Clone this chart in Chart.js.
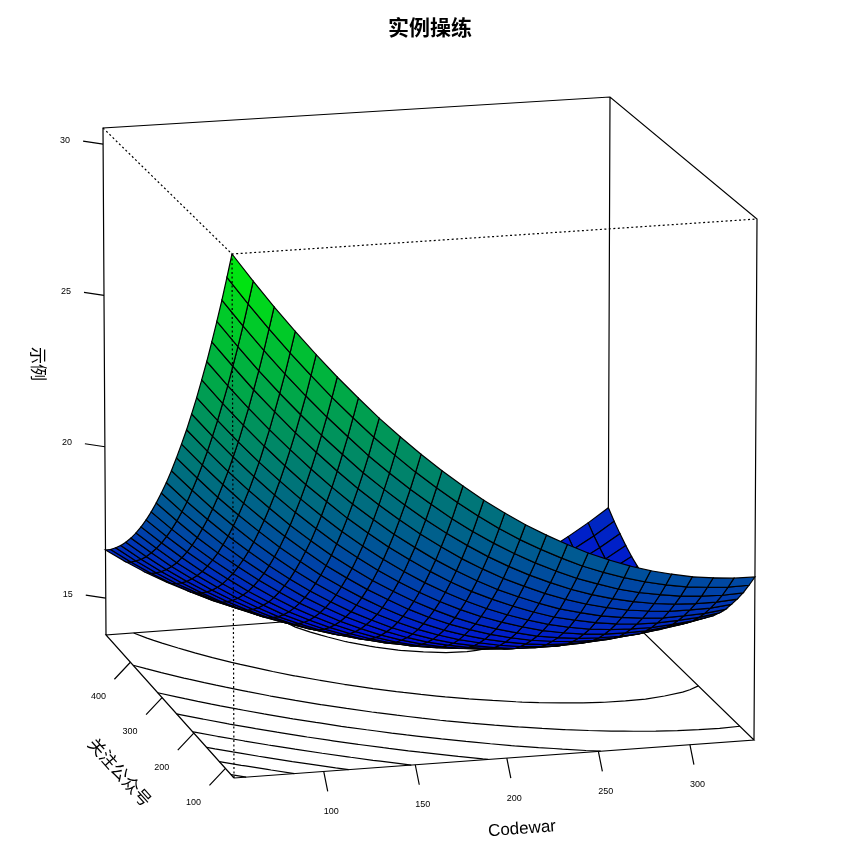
<!DOCTYPE html>
<html>
<head>
<meta charset="utf-8">
<script src="https://cdn.jsdelivr.net/npm/chart.js@4/dist/chart.umd.js"></script>
<style>
html, body { margin: 0; padding: 0; background: #fff; }
canvas { display: block; }
</style>
</head>
<body>
<canvas id="myChart" width="864" height="852"></canvas>
<script>
var titleText = "实例操练";
var xLabel = "Codewar";
var yLabel = "关注公众号";
var zLabel = "示例";

var codewarTicks = [100, 150, 200, 250, 300];
var followerTicks = [100, 200, 300, 400];
var zTicks = [15, 20, 25, 30];
var contourLevels = [14, 16, 18, 20, 22, 24, 26, 28, 30];

var codewarLim = [51, 335];
var followerLim = [73, 477];
var zLim = [13.78, 30.53];

var codewar = [51, 62.4, 73.7, 85.1, 96.4, 107.8, 119.2, 130.5, 141.9, 153.2, 164.6, 176, 187.3, 198.7, 210, 221.4, 232.8, 244.1, 255.5, 266.8, 278.2, 289.6, 300.9, 312.3, 323.6, 335];
var follower = [73, 89.2, 105.3, 121.5, 137.6, 153.8, 170, 186.1, 202.3, 218.4, 234.6, 250.8, 266.9, 283.1, 299.2, 315.4, 331.6, 347.7, 363.9, 380, 396.2, 412.4, 428.5, 444.7, 460.8, 477];

// one row per follower value, one column per codewar value
var zValues = [
  [30.53,29.62,28.75,27.92,27.13,26.37,25.65,24.96,24.32,23.71,23.14,22.60,22.10,21.64,21.22,20.84,20.49,20.17,19.90,19.66,19.46,19.30,19.17,19.09,19.03,19.02],
  [29.62,28.73,27.88,27.07,26.30,25.55,24.85,24.18,23.56,22.97,22.42,21.90,21.42,20.97,20.57,20.21,19.88,19.58,19.33,19.11,18.93,18.78,18.67,18.61,18.57,18.58],
  [28.73,27.86,27.03,26.23,25.48,24.76,24.08,23.42,22.82,22.25,21.72,21.21,20.75,20.33,19.95,19.60,19.29,19.01,18.78,18.57,18.41,18.29,18.20,18.15,18.13,18.16],
  [27.88,27.03,26.21,25.44,24.71,24.00,23.34,22.70,22.12,21.57,21.05,20.57,20.13,19.72,19.36,19.03,18.74,18.48,18.26,18.08,17.94,17.83,17.76,17.73,17.73,17.78],
  [27.06,26.23,25.43,24.68,23.96,23.28,22.63,22.02,21.45,20.92,20.42,19.96,19.53,19.15,18.80,18.50,18.22,17.98,17.78,17.62,17.49,17.41,17.35,17.35,17.36,17.43],
  [26.26,25.44,24.67,23.93,23.24,22.57,21.94,21.35,20.80,20.28,19.81,19.36,18.96,18.59,18.26,17.98,17.72,17.49,17.32,17.17,17.07,17.00,16.96,16.98,17.01,17.09],
  [25.50,24.70,23.95,23.23,22.55,21.90,21.30,20.72,20.19,19.69,19.24,18.81,18.42,18.07,17.77,17.50,17.26,17.05,16.90,16.77,16.68,16.63,16.62,16.65,16.70,16.80],
  [24.76,23.98,23.24,22.54,21.89,21.26,20.67,20.11,19.60,19.12,18.68,18.27,17.91,17.58,17.29,17.04,16.82,16.63,16.49,16.38,16.32,16.29,16.29,16.34,16.41,16.53],
  [24.06,23.30,22.58,21.90,21.26,20.65,20.08,19.54,19.05,18.59,18.17,17.78,17.43,17.12,16.85,16.62,16.42,16.25,16.13,16.04,15.99,15.98,16.00,16.07,16.16,16.30],
  [23.38,22.64,21.94,21.28,20.66,20.06,19.51,18.99,18.52,18.08,17.68,17.31,16.98,16.68,16.43,16.22,16.04,15.89,15.79,15.72,15.69,15.69,15.73,15.82,15.93,16.09],
  [22.74,22.02,21.34,20.69,20.09,19.52,18.99,18.48,18.03,17.61,17.23,16.87,16.56,16.29,16.06,15.86,15.70,15.57,15.49,15.43,15.42,15.45,15.51,15.61,15.74,15.92],
  [22.12,21.42,20.75,20.13,19.55,18.99,18.48,17.99,17.56,17.16,16.79,16.46,16.17,15.91,15.70,15.52,15.38,15.27,15.20,15.17,15.18,15.22,15.30,15.42,15.57,15.77],
  [21.53,20.85,20.20,19.60,19.03,18.50,18.00,17.54,17.12,16.74,16.39,16.08,15.80,15.57,15.37,15.22,15.09,15.00,14.95,14.94,14.96,15.03,15.12,15.27,15.43,15.65],
  [20.97,20.30,19.68,19.09,18.55,18.03,17.55,17.11,16.71,16.34,16.02,15.72,15.47,15.25,15.07,14.94,14.83,14.75,14.73,14.73,14.78,14.86,14.97,15.14,15.32,15.55],
  [20.45,19.80,19.20,18.63,18.10,17.60,17.15,16.72,16.34,15.99,15.69,15.41,15.17,14.97,14.82,14.70,14.61,14.55,14.55,14.57,14.63,14.73,14.87,15.05,15.25,15.50],
  [19.95,19.32,18.73,18.18,17.68,17.20,16.76,16.35,15.99,15.66,15.37,15.11,14.90,14.72,14.58,14.48,14.41,14.37,14.38,14.42,14.51,14.63,14.78,14.98,15.20,15.47],
  [19.48,18.87,18.30,17.77,17.28,16.82,16.40,16.01,15.67,15.36,15.09,14.85,14.65,14.49,14.37,14.29,14.24,14.22,14.25,14.31,14.41,14.55,14.72,14.94,15.18,15.47],
  [19.04,18.45,17.90,17.39,16.92,16.47,16.07,15.70,15.38,15.09,14.84,14.62,14.44,14.29,14.19,14.13,14.10,14.10,14.15,14.23,14.35,14.50,14.69,14.93,15.19,15.50],
  [18.63,18.06,17.53,17.03,16.58,16.16,15.78,15.42,15.12,14.85,14.62,14.41,14.25,14.13,14.05,14.00,13.99,14.01,14.08,14.17,14.31,14.49,14.70,14.95,15.23,15.56],
  [18.25,17.70,17.18,16.71,16.28,15.87,15.51,15.17,14.89,14.64,14.42,14.24,14.10,13.99,13.93,13.90,13.91,13.95,14.03,14.15,14.31,14.50,14.73,15.00,15.30,15.65],
  [17.90,17.37,16.87,16.42,16.00,15.62,15.27,14.96,14.69,14.46,14.26,14.10,13.97,13.89,13.84,13.84,13.86,13.92,14.02,14.16,14.33,14.55,14.79,15.09,15.40,15.77],
  [17.58,17.06,16.59,16.15,15.76,15.39,15.06,14.77,14.52,14.30,14.13,13.98,13.88,13.81,13.78,13.80,13.84,13.91,14.04,14.19,14.39,14.62,14.88,15.20,15.53,15.91],
  [17.29,16.79,16.34,15.92,15.54,15.19,14.89,14.61,14.38,14.18,14.03,13.90,13.81,13.76,13.76,13.79,13.85,13.94,14.09,14.26,14.47,14.72,15.01,15.34,15.69,16.09],
  [17.03,16.55,16.11,15.71,15.36,15.03,14.74,14.48,14.27,14.09,13.95,13.84,13.78,13.75,13.76,13.81,13.89,14.00,14.16,14.35,14.59,14.86,15.16,15.51,15.88,16.30],
  [16.79,16.33,15.91,15.53,15.19,14.88,14.61,14.37,14.18,14.02,13.90,13.81,13.76,13.75,13.78,13.85,13.95,14.08,14.26,14.47,14.72,15.01,15.33,15.70,16.09,16.53],
  [16.59,16.15,15.75,15.39,15.07,14.77,14.52,14.30,14.13,13.99,13.89,13.82,13.79,13.79,13.84,13.93,14.05,14.20,14.40,14.63,14.90,15.20,15.54,15.93,16.34,16.80]
];

// where the eight corners of the box land on the page (the view of the plot)
var view = {
  floor: { near: [234, 778], right: [754, 740], left: [106, 635], back: [608, 598] },
  top: { near: [232, 254], right: [757, 219], left: [103, 128], back: [610, 97] }
};

function mix(a, b, t) { return a + (b - a) * t; }

function project(cw, fo, z) {
  var u = (cw - codewarLim[0]) / (codewarLim[1] - codewarLim[0]);
  var v = (fo - followerLim[0]) / (followerLim[1] - followerLim[0]);
  var w = (z - zLim[0]) / (zLim[1] - zLim[0]);
  var res = [0, 1].map(function (k) {
    var f = view.floor, t = view.top;
    var lo = mix(mix(f.near[k], f.right[k], u), mix(f.left[k], f.back[k], u), v);
    var hi = mix(mix(t.near[k], t.right[k], u), mix(t.left[k], t.back[k], u), v);
    return mix(lo, hi, w);
  });
  return { x: res[0], y: res[1] };
}

function facetColor(z) {
  var t = (z - zLim[0]) / (zLim[1] - zLim[0]);
  return "rgb(0," + Math.round(240 * t) + "," + Math.round(225 * (1 - t) + 5) + ")";
}

// draws each dataset as one filled cell, the points come from the scales
class Facet extends Chart.ScatterController {
  draw() {
    var pts = this._cachedMeta.data;
    var ctx = this.chart.ctx;
    ctx.save();
    ctx.beginPath();
    pts.forEach(function (p, i) {
      if (i == 0) ctx.moveTo(p.x, p.y); else ctx.lineTo(p.x, p.y);
    });
    ctx.closePath();
    ctx.fillStyle = this.getDataset().backgroundColor;
    ctx.fill();
    ctx.strokeStyle = "#000";
    ctx.lineWidth = 1.2;
    ctx.stroke();
    ctx.restore();
  }
}
Facet.id = "facet";
Facet.defaults = Chart.ScatterController.defaults;
Chart.register(Facet);

function lineSet(points, dash) {
  return {
    type: "scatter",
    showLine: true,
    data: points,
    borderColor: "#000",
    borderWidth: 1.2,
    borderDash: dash || [],
    pointRadius: 0,
    spanGaps: false
  };
}

var gap = { x: NaN, y: NaN };
var xa = codewarLim, ya = followerLim, za = zLim;

// box edges behind the surface
var backEdges = [
  project(xa[0], ya[0], za[0]), project(xa[1], ya[0], za[0]), project(xa[1], ya[1], za[0]), project(xa[0], ya[1], za[0]), project(xa[0], ya[0], za[0]), gap,
  project(xa[0], ya[1], za[0]), project(xa[0], ya[1], za[1]), project(xa[1], ya[1], za[1]), project(xa[1], ya[0], za[1]), project(xa[1], ya[0], za[0]), gap,
  project(xa[1], ya[1], za[0]), project(xa[1], ya[1], za[1])
];
// box edges in front, dotted
var frontEdges = [
  project(xa[0], ya[1], za[1]), project(xa[0], ya[0], za[1]), project(xa[1], ya[0], za[1]), gap,
  project(xa[0], ya[0], za[1]), project(xa[0], ya[0], za[0])
];

var tickPts = [];
codewarTicks.forEach(function (t) {
  var p = project(t, ya[0], za[0]);
  tickPts.push(p, { x: p.x + 4, y: p.y + 20 }, gap);
});
followerTicks.forEach(function (t) {
  var p = project(xa[0], t, za[0]);
  tickPts.push(p, { x: p.x - 16, y: p.y + 17 }, gap);
});
zTicks.forEach(function (t) {
  var p = project(xa[0], ya[1], t);
  tickPts.push(p, { x: p.x - 20, y: p.y - 3 }, gap);
});

// contour lines on the floor of the box
var contourPts = [];
function crossing(level, a, b, za1, zb1) {
  if ((za1 < level) == (zb1 < level)) return null;
  var t = (level - za1) / (zb1 - za1);
  return project(mix(a[0], b[0], t), mix(a[1], b[1], t), zLim[0]);
}
contourLevels.forEach(function (level) {
  for (var j = 0; j < follower.length - 1; j++) {
    for (var i = 0; i < codewar.length - 1; i++) {
      var x0 = codewar[i], x1 = codewar[i + 1], y0 = follower[j], y1 = follower[j + 1];
      var z00 = zValues[j][i], z10 = zValues[j][i + 1], z01 = zValues[j + 1][i], z11 = zValues[j + 1][i + 1];
      var hits = [
        crossing(level, [x0, y0], [x1, y0], z00, z10),
        crossing(level, [x1, y0], [x1, y1], z10, z11),
        crossing(level, [x1, y1], [x0, y1], z11, z01),
        crossing(level, [x0, y1], [x0, y0], z01, z00)
      ].filter(function (h) { return h; });
      if (hits.length >= 2) contourPts.push(hits[0], hits[1], gap);
    }
  }
});

// cells go back to front, the far corner of the grid first
var facets = [];
for (var j = follower.length - 2; j >= 0; j--) {
  for (var i = codewar.length - 2; i >= 0; i--) {
    var mean = (zValues[j][i] + zValues[j][i + 1] + zValues[j + 1][i] + zValues[j + 1][i + 1]) / 4;
    facets.push({
      type: "facet",
      backgroundColor: facetColor(mean),
      pointRadius: 0,
      data: [
        project(codewar[i], follower[j], zValues[j][i]),
        project(codewar[i + 1], follower[j], zValues[j][i + 1]),
        project(codewar[i + 1], follower[j + 1], zValues[j + 1][i + 1]),
        project(codewar[i], follower[j + 1], zValues[j + 1][i])
      ]
    });
  }
}

// chart.js paints the last dataset first
var datasets = [lineSet(frontEdges, [2, 2.5])]
  .concat(facets.slice().reverse())
  .concat([lineSet(contourPts), lineSet(tickPts), lineSet(backEdges)]);

var axisText = {
  id: "axisText",
  afterDatasetsDraw: function (chart) {
    var ctx = chart.ctx, sx = chart.scales.x, sy = chart.scales.y;
    function put(text, px, py, font, angle) {
      ctx.save();
      ctx.translate(sx.getPixelForValue(px), sy.getPixelForValue(py));
      ctx.rotate((angle || 0) * Math.PI / 180);
      ctx.font = font;
      ctx.fillStyle = "#000";
      ctx.textAlign = "center";
      ctx.textBaseline = "middle";
      ctx.fillText(text, 0, 0);
      ctx.restore();
    }
    var small = "9px 'Liberation Sans'";
    codewarTicks.forEach(function (t) {
      var p = project(t, ya[0], za[0]);
      put(String(t), p.x + 7.5, p.y + 40, small);
    });
    followerTicks.forEach(function (t) {
      var p = project(xa[0], t, za[0]);
      put(String(t), p.x - 32, p.y + 34, small);
    });
    zTicks.forEach(function (t) {
      var p = project(xa[0], ya[1], t);
      put(String(t), p.x - 38, p.y - 4, small);
    });
    put(xLabel, 522, 829, "17px 'Liberation Sans'", -4.2);
    put(yLabel, 120, 772, "17px 'Noto Sans CJK SC'", 48);
    put(zLabel, 38, 364, "17px 'Noto Sans CJK SC'", 90);
  }
};

var chart = new Chart(document.getElementById("myChart").getContext("2d"), {
  type: "scatter",
  data: { datasets: datasets },
  plugins: [axisText],
  options: {
    responsive: false,
    animation: false,
    events: [],
    layout: { autoPadding: false, padding: { right: 4 } },
    plugins: {
      legend: { display: false },
      tooltip: { enabled: false },
      title: {
        display: true,
        text: titleText,
        color: "#000",
        padding: { top: 14, bottom: 0 },
        font: { family: "'Noto Sans CJK SC'", size: 21, weight: "bold", lineHeight: "26px" }
      }
    },
    // one unit is one pixel on both axes, the view above is the real mapping
    scales: {
      x: { type: "linear", display: false, min: 0, max: 860 },
      y: { type: "linear", display: false, min: 40, max: 852, reverse: true }
    }
  }
});
</script>
</body>
</html>
